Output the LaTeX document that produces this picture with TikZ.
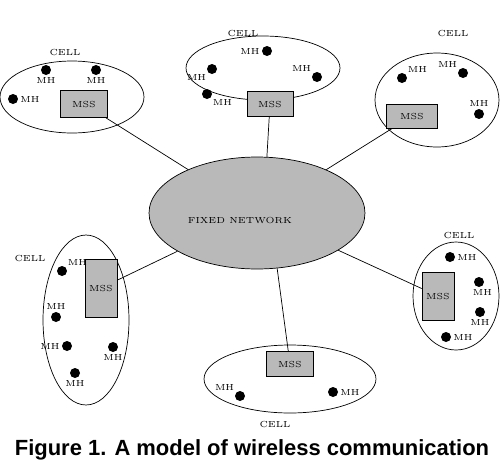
\documentclass[tikz,border=0pt]{standalone}
\usepackage{fontspec}
\usetikzlibrary{shapes.geometric}
\newfontfamily\capfont{Liberation Sans}
\begin{document}
\begin{tikzpicture}[x=0.02cm,y=-0.02cm]
\tikzstyle{every node}=[font=\tiny,inner sep=1pt];
\tikzstyle{cell}=[draw,shape=ellipse,inner sep=0pt];
\tikzstyle{mss}=[draw,fill=gray!55,inner sep=0pt];
\tikzstyle{mh}=[shape=circle,fill=black,inner sep=0pt,minimum size=0.2cm,label distance=0pt];
\useasboundingbox (0,0) rectangle (500,460);
% fixed network
\node[cell,fill=gray!55,minimum width=4.32cm,minimum height=2.24cm] (fixed) at (257,213) {};
\node (fixedlbl) at (240,220) {FIXED NETWORK};
% cells
\node[cell,minimum width=2.88cm,minimum height=1.44cm] (cellA) at (72,97) {};
\node[cell,minimum width=3.08cm,minimum height=1.28cm] (cellB) at (263,68) {};
\node[cell,minimum width=2.48cm,minimum height=1.88cm] (cellC) at (437,100) {};
\node[cell,minimum width=1.72cm,minimum height=3.4cm] (cellD) at (86,320) {};
\node[cell,minimum width=1.72cm,minimum height=2.16cm] (cellE) at (456,296) {};
\node[cell,minimum width=3.44cm,minimum height=1.36cm] (cellF) at (290,379) {};
\node (cellAl) at (65,52) {CELL};
\node (cellBl) at (243,33) {CELL};
\node (cellCl) at (453,33) {CELL};
\node (cellDl) at (30,258) {CELL};
\node (cellEl) at (459,235) {CELL};
\node (cellFl) at (275,424) {CELL};
% base stations
\node[mss,minimum width=0.94cm,minimum height=0.54cm] (mssA) at (84,104) {MSS};
\node[mss,minimum width=0.92cm,minimum height=0.5cm] (mssB) at (270,104) {MSS};
\node[mss,minimum width=1.02cm,minimum height=0.48cm] (mssC) at (412,116) {MSS};
\node[mss,minimum width=0.64cm,minimum height=1.16cm] (mssD) at (101,288) {MSS};
\node[mss,minimum width=0.64cm,minimum height=0.96cm] (mssE) at (438,296) {MSS};
\node[mss,minimum width=0.94cm,minimum height=0.5cm] (mssF) at (290,364) {MSS};
% mobile hosts
\node[mh,label=below:MH] (mhA1) at (46,70) {};
\node[mh,label=below:MH] (mhA2) at (96,70) {};
\node[mh,label=right:MH] (mhA3) at (13,99) {};
\node[mh,label=left:MH] (mhB1) at (267,51) {};
\node[mh,label=below left:MH] (mhB2) at (212,69) {};
\node[mh,label=above left:MH] (mhB3) at (317,77) {};
\node[mh,label=below right:MH] (mhB4) at (207,94) {};
\node[mh,label=above right:MH] (mhC1) at (402,78) {};
\node[mh,label=above left:MH] (mhC2) at (463,73) {};
\node[mh,label=above:MH] (mhC3) at (479,114) {};
\node[mh,label=above right:MH] (mhD1) at (62,271) {};
\node[mh,label=above:MH] (mhD2) at (56,317) {};
\node[mh,label=left:MH] (mhD3) at (67,346) {};
\node[mh,label=below:MH] (mhD4) at (113,347) {};
\node[mh,label=below:MH] (mhD5) at (75,373) {};
\node[mh,label=right:MH] (mhE1) at (450,257) {};
\node[mh,label={[xshift=2pt]below:MH}] (mhE2) at (479,282) {};
\node[mh,label=below:MH] (mhE3) at (480,312) {};
\node[mh,label=right:MH] (mhE4) at (446,337) {};
\node[mh,label=above left:MH] (mhF1) at (240,396) {};
\node[mh,label=right:MH] (mhF2) at (333,392) {};
% links
\draw (mssA) -- (fixed);
\draw (mssB) -- (fixed.80);
\draw (mssC) -- (fixed);
\draw (mssD) -- (fixed);
\draw (mssE) -- (fixed);
\draw (mssF) -- (fixed.-70);
\node[font=\capfont\bfseries\fontsize{12.5}{14}\selectfont] (capt) at (252,450) {Figure 1. A model of wireless communication};
\end{tikzpicture}
\end{document}
